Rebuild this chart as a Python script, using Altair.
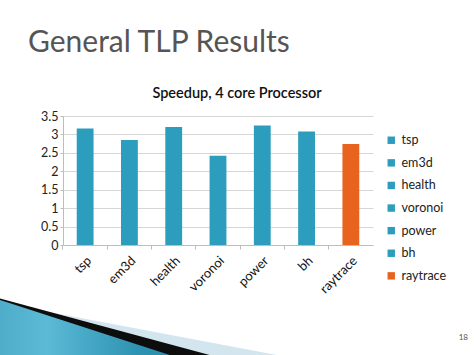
import math
import altair as alt
import pandas as pd

categories = ["tsp", "em3d", "health", "voronoi", "power", "bh", "raytrace"]
speedups = [3.16, 2.85, 3.20, 2.42, 3.24, 3.08, 2.74]
bar_colors = ["#2c9dbc"] * 6 + ["#e8641e"]
y_ticks = [0, 0.5, 1, 1.5, 2, 2.5, 3, 3.5]

slide_title = "General TLP Results"
chart_title = "Speedup, 4 core Processor"
page_number = "18"

FONT = "Lato"
PAD_L, PAD_T, PAD_R, PAD_B = 63, 116, 101, 110
W, H = 474 - PAD_L - PAD_R, 355 - PAD_T - PAD_B

df = pd.DataFrame({"benchmark": categories, "speedup": speedups})

x_scale = alt.Scale(domain=categories, paddingInner=0.62, paddingOuter=0.31)

bars = alt.Chart(df).mark_bar().encode(
    x=alt.X("benchmark:N", sort=categories, scale=x_scale,
            axis=alt.Axis(title=None, orient="bottom", labelAngle=-45, labelFontSize=13,
                          labelFont=FONT, labelColor="#111", ticks=False, domainColor="#bdbdbd",
                          labelPadding=9, grid=False)),
    y=alt.Y("speedup:Q", scale=alt.Scale(domain=[0, 3.5], nice=False),
            axis=alt.Axis(title=None, values=y_ticks, format="~g", labelFontSize=12.5,
                          labelFont=FONT, labelColor="#222", tickSize=3, tickColor="#bdbdbd",
                          domainColor="#bdbdbd", gridColor="#d6d6d6", labelPadding=2,
                          labelOverlap=False)),
    color=alt.Color("benchmark:N", sort=categories,
                    scale=alt.Scale(domain=categories, range=bar_colors),
                    legend=alt.Legend(title=None, orient="none", legendX=322, legendY=18,
                                      symbolType="square", symbolSize=55, symbolStrokeWidth=0,
                                      labelFontSize=12.5, labelFont=FONT, labelColor="#222",
                                      rowPadding=9.6, padding=0, symbolOffset=0, labelOffset=4)),
)

# x-axis tick marks placed at category boundaries
tick_axis = alt.Chart(df).mark_bar(opacity=0).encode(
    x=alt.X("benchmark:N", sort=categories, scale=x_scale,
            axis=alt.Axis(title=None, orient="bottom", labels=False, domain=False, grid=False,
                          ticks=True, tickSize=4, tickColor="#bdbdbd", bandPosition=-0.816)),
)

one = alt.Data(values=[{"k": 1}])

def text_layer(txt, px, py, **kw):
    return alt.Chart(one).mark_text(font=FONT, **kw).encode(
        x=alt.value(px - PAD_L), y=alt.value(py - PAD_T), text=alt.value(txt))

title1 = text_layer(slide_title, 28, 52, fontSize=30, color="#555555", align="left", baseline="alphabetic")
title2 = text_layer(chart_title, 237, 98, fontSize=14.5, fontWeight=600, color="#111", align="center", baseline="alphabetic")
pnum = text_layer(page_number, 468, 340, fontSize=8, color="#555", align="right", baseline="alphabetic")

def wedge(y0, slope, width, color):
    h = width / 2 / math.sqrt(1 + slope * slope)
    xa, xb = -200, 400
    p1 = (xa - slope * h, y0 + slope * xa + h)
    p2 = (xb - slope * h, y0 + slope * xb + h)
    return alt.Chart(one).mark_rule(strokeWidth=width, stroke=color, strokeCap="butt").encode(
        x=alt.value(p1[0] - PAD_L), y=alt.value(p1[1] - PAD_T),
        x2=alt.value(p2[0] - PAD_L), y2=alt.value(p2[1] - PAD_T))

blue_grad = alt.LinearGradient(
    gradient="linear", x1=0, y1=0, x2=1, y2=0,
    stops=[alt.GradientStop(offset=0, color="#16708c"),
           alt.GradientStop(offset=0.45, color="#5bbad6"),
           alt.GradientStop(offset=0.6, color="#2e93b2"),
           alt.GradientStop(offset=1, color="#0f6b86")])

light = wedge(302.7, 0.189, 160, "#d3e5ee")
black = wedge(298.6, 0.269, 150, "#0d0d0d")
blue = wedge(300.0, 0.324, 150, blue_grad)

chart = alt.layer(light, black, blue, tick_axis, bars, title1, title2, pnum).resolve_axis(
    x="independent"
).properties(
    width=W, height=H,
    autosize=alt.AutoSizeParams(type="none"),
    padding={"left": PAD_L, "top": PAD_T, "right": PAD_R, "bottom": PAD_B},
    background="white",
).configure_view(stroke=None)

chart.save("out.html", embed_options={"renderer": "svg", "actions": False})
